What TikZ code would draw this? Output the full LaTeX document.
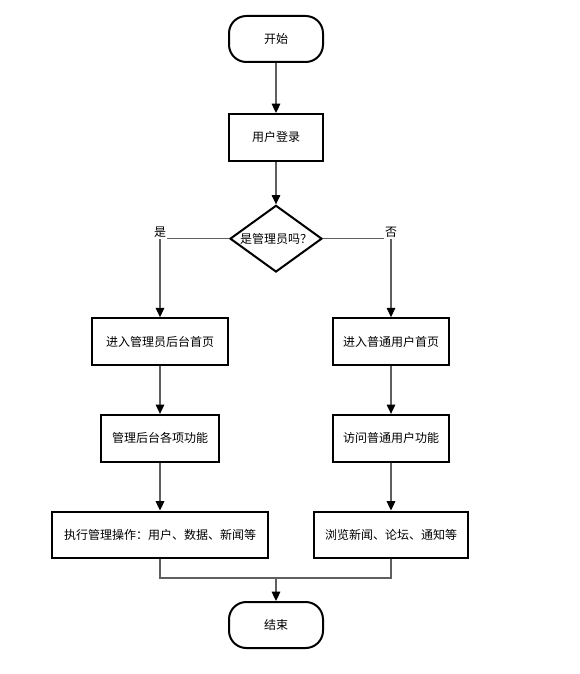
\documentclass[tikz,border=0pt]{standalone}
\usepackage{fontspec}
\setmainfont{Noto Sans CJK SC}
\usepackage{tikz}
\usetikzlibrary{arrows.meta,positioning,shapes.geometric}
\definecolor{fcedge}{RGB}{0,0,0}
\definecolor{fcline}{RGB}{95,95,95}
\tikzset{
  fcbox/.style={
    draw=fcedge, line width=1.5pt, fill=white,
    align=center, inner sep=3pt, font=\fontsize{9}{11}\selectfont,
    minimum height=35pt
  },
  term/.style={fcbox, rounded corners=13pt, minimum width=70.5pt, minimum height=34.5pt},
  proc/.style={fcbox},
  dec/.style={fcbox, diamond, aspect=1.4, inner sep=0pt,
    minimum width=69pt, minimum height=50pt},
  lnk/.style={draw=fcline, line width=0.8pt},
  arr/.style={lnk, -{Triangle[length=7pt,width=6.5pt,color=black]}},
  lbl/.style={fill=white, inner sep=1pt, font=\fontsize{9}{11}\selectfont},
  every picture/.append style={line join=miter}
}
\begin{document}
\begin{tikzpicture}[x=0.75pt, y=0.75pt, node distance=36pt]
  \useasboundingbox (0,0) rectangle (580,-674);
  % main column
  \node[term] (start) at (276,-39) {开始};
  \node[proc, below=37.5pt of start, minimum width=70.5pt] (login) {用户登录};
  \node[dec, below=32pt of login] (admin) {是管理员吗？};
  % admin branch
  \node[proc, minimum width=102pt] (adm1) at (160,-341.5) {进入管理员后台首页};
  \node[proc, below=of adm1, minimum width=88pt] (adm2) {管理后台各项功能};
  \node[proc, below=of adm2, minimum width=162pt] (adm3) {执行管理操作：用户、数据、新闻等};
  % user branch
  \node[proc, minimum width=87pt] (usr1) at (391,-341.5) {进入普通用户首页};
  \node[proc, below=of usr1, minimum width=87pt] (usr2) {访问普通用户功能};
  \node[proc, below=of usr2, minimum width=115.5pt] (usr3) {浏览新闻、论坛、通知等};
  % end
  \coordinate (merge) at (276,-578);
  \node[term] (stop) at (276,-625) {结束};
  \draw[arr] (start) -- (login);
  \draw[arr] (login) -- (admin);
  \draw[arr] (admin.west) -| node[lbl, pos=0.5, yshift=4.5pt] {是} (adm1.north);
  \draw[arr] (admin.east) -| node[lbl, pos=0.5, yshift=4.5pt] {否} (usr1.north);
  \draw[arr] (adm1) -- (adm2);
  \draw[arr] (adm2) -- (adm3);
  \draw[arr] (usr1) -- (usr2);
  \draw[arr] (usr2) -- (usr3);
  \draw[lnk] (adm3.south) |- (merge) -| (usr3.south);
  \draw[arr] (merge) -- (stop);
\end{tikzpicture}
\end{document}
